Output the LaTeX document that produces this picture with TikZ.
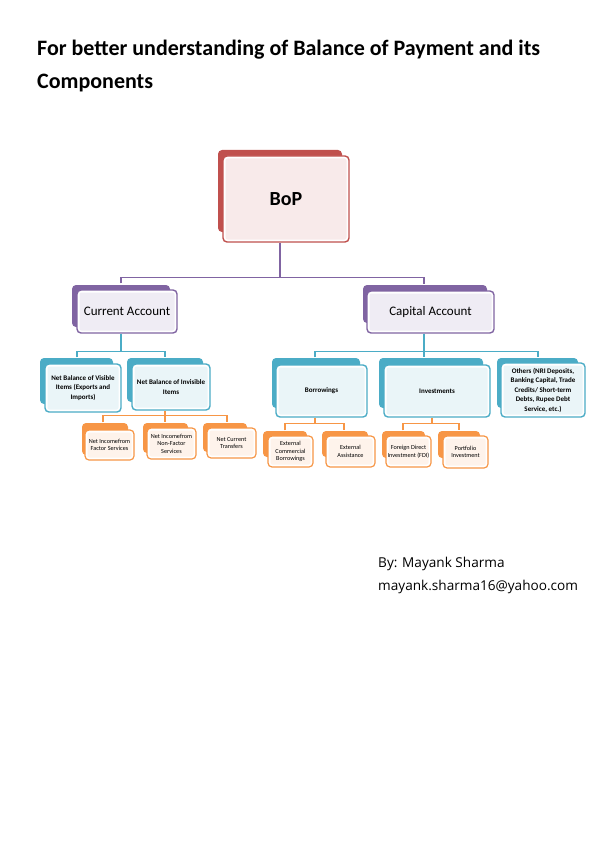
\documentclass[tikz,border=0pt]{standalone}
\usepackage{fontspec}
\setmainfont{Carlito}
\newfontfamily\authorfont{Open Sans}
\usetikzlibrary{calc}
\definecolor{cred}{HTML}{C0504D}
\definecolor{cpur}{HTML}{8064A2}
\definecolor{cteal}{HTML}{4BACC6}
\definecolor{corg}{HTML}{F79646}
\definecolor{fred}{HTML}{F8EAEA}
\definecolor{fpur}{HTML}{EFECF4}
\definecolor{fteal}{HTML}{EAF5F8}
\definecolor{forg}{HTML}{FEF3EB}
\tikzset{
  frontbox/.style 2 args={draw=#1, fill=white, line width=1.4pt, rounded corners=4pt,
    align=center, inner sep=1pt,
    path picture={\fill[#2, rounded corners=2pt]
      ([xshift=2.5pt,yshift=-2.5pt]path picture bounding box.north west) rectangle
      ([xshift=-2.5pt,yshift=2.5pt]path picture bounding box.south east);}},
  backbox/.style={fill=#1, rounded corners=4pt},
  redbox/.style={frontbox={cred}{fred}, font=\bfseries\fontsize{20}{24}\selectfont},
  purbox/.style={frontbox={cpur}{fpur}, font=\fontsize{13}{16}\selectfont},
  tealbox/.style={frontbox={cteal}{fteal}, font=\bfseries\fontsize{7}{9.5}\selectfont},
  orgbox/.style={frontbox={corg}{forg}, line width=1.2pt, font=\fontsize{6.2}{7.6}\selectfont},
  pline/.style={draw=cpur, line width=1.5pt},
  tline/.style={draw=cteal, line width=1.5pt},
  oline/.style={draw=corg, line width=1.5pt},
}
\begin{document}
\begin{tikzpicture}[x=1pt,y=-1pt]
\fill[white] (0,0) rectangle (595,842);
\useasboundingbox (0,0) rectangle (595,842);

% title
\node[anchor=base west, inner sep=0, font=\bfseries\fontsize{22}{26}\selectfont] (t1) at (37,56)
  {For better understanding of Balance of Payment and its};
\node[anchor=base west, inner sep=0, font=\bfseries\fontsize{22}{26}\selectfont] (t2) at (37,89)
  {Components};

% back boxes
\fill[backbox=cred] (218,150) rectangle (342,232);
\fill[backbox=cpur] (72,285) rectangle (170,327);
\fill[backbox=cpur] (363,285) rectangle (487,323);
\fill[backbox=cteal] (40,358) rectangle (113,404);
\fill[backbox=cteal] (127,358) rectangle (203,402);
\fill[backbox=cteal] (272,358) rectangle (360,408);
\fill[backbox=cteal] (379,358) rectangle (483,408);
\fill[backbox=cteal] (497,358) rectangle (578,408);
\fill[backbox=corg] (82,423) rectangle (128,455);
\fill[backbox=corg] (143,423) rectangle (188,453);
\fill[backbox=corg] (203,423) rectangle (247,452);
\fill[backbox=corg] (263,431) rectangle (307,457);
\fill[backbox=corg] (322,431) rectangle (368,457);
\fill[backbox=corg] (382,431) rectangle (425,458);
\fill[backbox=corg] (438,431) rectangle (480,458);

% front boxes
\node[redbox, minimum width=126pt, minimum height=86pt] (bop) at (286,199) {BoP};
\node[purbox, minimum width=100pt, minimum height=43pt] (cur) at (127,311.5) {Current Account};
\node[purbox, minimum width=127pt, minimum height=42pt] (cap) at (430.5,312) {Capital Account};
\node[tealbox, minimum width=76pt, minimum height=48pt] (vis) at (83,388)
  {Net Balance of Visible\\Items (Exports and\\Imports)};
\node[tealbox, minimum width=78pt, minimum height=46pt] (inv) at (171,387)
  {Net Balance of Invisible\\Items};
\node[tealbox, minimum width=91pt, minimum height=52pt] (bor) at (321.5,391) {Borrowings};
\node[tealbox, minimum width=106pt, minimum height=52pt] (ivt) at (437,391) {Investments};
\node[tealbox, minimum width=84pt, minimum height=54pt] (oth) at (543,390)
  {Others (NRI Deposits,\\Banking Capital, Trade\\Credits/ Short-term\\Debts, Rupee Debt\\Service, etc.)};
\node[orgbox, minimum width=49pt, minimum height=30pt] (fac) at (109.5,445)
  {Net Incomefrom\\Factor Services};
\node[orgbox, minimum width=49pt, minimum height=31pt] (nfac) at (171.5,443.5)
  {Net Incomefrom\\Non-Factor\\Services};
\node[orgbox, minimum width=49pt, minimum height=30pt] (tra) at (231.5,443)
  {Net Current\\Transfers};
\node[orgbox, minimum width=45pt, minimum height=31pt] (ecb) at (290.5,451.5)
  {External\\Commercial\\Borrowings};
\node[orgbox, minimum width=49pt, minimum height=31pt] (ext) at (350.5,451.5)
  {External\\Assistance};
\node[orgbox, minimum width=45pt, minimum height=31pt] (fdi) at (408.5,451.5)
  {Foreign Direct\\Investment (FDI)};
\node[orgbox, minimum width=45pt, minimum height=32pt] (por) at (465.5,452)
  {Portfolio\\Investment};

% connectors: level 1
\draw[pline] ([xshift=-6pt]bop.south) -- ++(0,35) coordinate (pb);
\draw[pline] ([xshift=-6pt,yshift=6pt]cur.north) |- (pb) -| ([xshift=-6.5pt,yshift=6pt]cap.north);

% level 2
\draw[tline] ([xshift=-6pt]cur.south) -- ++(0,18) coordinate (tb1);
\draw[tline] ([xshift=-6pt,yshift=6pt]vis.north) |- (tb1) -| ([xshift=-6pt,yshift=6pt]inv.north);
\draw[tline] ([xshift=-6.5pt]cap.south) -- ++(0,18) coordinate (tb2);
\draw[tline] ([xshift=-6.5pt,yshift=7pt]bor.north) |- (tb2) -| ([xshift=-5pt,yshift=5pt]oth.north);
\draw[tline] (tb2) -- ([xshift=-13pt,yshift=7pt]ivt.north);

% level 3
\draw[oline] ([xshift=-6pt]inv.south) -- ++(0,5) coordinate (ob1);
\draw[oline] ([xshift=-6.5pt,yshift=7pt]fac.north) |- (ob1) -| ([xshift=-4.5pt,yshift=5pt]tra.north);
\draw[oline] (ob1) -- ([xshift=-6.5pt,yshift=5pt]nfac.north);
\draw[oline] ([xshift=-6.5pt]bor.south) -- ++(0,6) coordinate (ob2);
\draw[oline] ([xshift=-5.5pt,yshift=5pt]ecb.north) |- (ob2) -| ([xshift=-6.5pt,yshift=5pt]ext.north);
\draw[oline] ([xshift=-5pt]ivt.south) -- ++(0,6) coordinate (ob3);
\draw[oline] ([xshift=-5.5pt,yshift=5pt]fdi.north) |- (ob3) -| ([xshift=-6.5pt,yshift=5pt]por.north);

% author
\node[anchor=base west, inner sep=0, font=\authorfont\fontsize{13.6}{17}\selectfont] (a1) at (378,567)
  {By: Mayank Sharma};
\node[anchor=base west, inner sep=0, font=\authorfont\fontsize{13.6}{17}\selectfont] (a2) at (378,590)
  {mayank.sharma16@yahoo.com};
\end{tikzpicture}
\end{document}
